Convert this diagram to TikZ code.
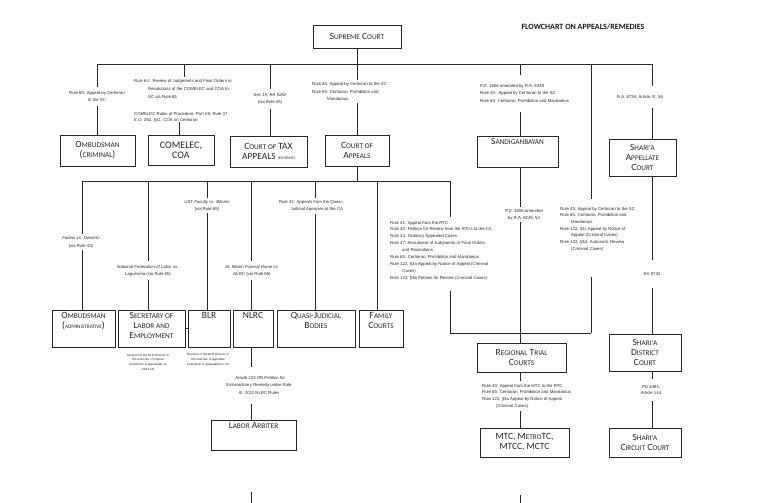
\documentclass[tikz,border=0pt]{standalone}
\usepackage{fontspec}
\setmainfont{Liberation Sans}
\newfontfamily\boxfam{Carlito}
\usetikzlibrary{shadows}
\newcommand\sck[1]{{\fontsize{7.3}{10}\selectfont #1}}
\newcommand\notesz{\fontsize{4.3}{7}\selectfont}
\tikzset{
  box/.style={draw=black!85, line width=0.7pt, fill=white,
    drop shadow={shadow xshift=0.7pt, shadow yshift=-0.7pt, fill=black!70, opacity=1},
    align=center, font=\boxfam\fontsize{9.5}{10}\selectfont, inner sep=1pt, text=black!85},
  blbl/.style={anchor=north, align=center, font=\boxfam\fontsize{9.5}{10}\selectfont, inner sep=2.5pt, text=black!85},
  note/.style={font=\notesz, align=center, inner sep=2.5pt, inner xsep=1pt, text=black!85},
  notel/.style={note, align=left},
  conn/.style={draw=black!85, line width=0.8pt}
}
\begin{document}
\begin{tikzpicture}[x=1pt,y=-1pt]
\useasboundingbox (0,0) rectangle (768,503);
% title
\node[font=\boxfam\bfseries\fontsize{8}{9}\selectfont, text=black!90] (title) at (583,27) {FLOWCHART ON APPEALS/REMEDIES};
% top row boxes
\node[box, minimum width=88pt, minimum height=23pt] (sc) at (357,36.5) {S\sck{UPREME} C\sck{OURT}};
\node[box, minimum width=75pt, minimum height=31pt] (omb1) at (97.5,150.5) {O\sck{MBUDSMAN}\\(\sck{CRIMINAL})};
\node[box, minimum width=66pt, minimum height=30pt, font=\boxfam\fontsize{10}{10}\selectfont] (comelec) at (181,150) {COMELEC,\\COA};
\node[box, minimum width=77pt, minimum height=31pt] (cta) at (268.5,151.5) {C\sck{OURT OF} TAX\\APPEALS {\fontsize{4}{5}\selectfont (EN BANC)}};
\node[box, minimum width=64pt, minimum height=31pt] (ca) at (357,150.5) {C\sck{OURT OF}\\A\sck{PPEALS}};
\node[box, minimum width=81pt, minimum height=31pt, label={[blbl]north:S\sck{ANDIGANBAYAN}}] (sandi) at (517.5,151.5) {};
\node[box, minimum width=67pt, minimum height=37pt] (sha) at (642.5,157.5) {S\sck{HARI'A}\\A\sck{PPELLATE}\\C\sck{OURT}};
% second row boxes
\node[box, minimum width=63pt, minimum height=37pt, label={[blbl]north:{O\sck{MBUDSMAN}\\({\fontsize{5.3}{10}\selectfont ADMINISTRATIVE})}}] (omb2) at (83.5,328.5) {};
\node[box, minimum width=67pt, minimum height=37pt, label={[blbl]north:{S\sck{ECRETARY OF}\\L\sck{ABOR AND}\\E\sck{MPLOYMENT}}}] (sole) at (151.5,328.5) {};
\node[box, minimum width=42pt, minimum height=37pt, label={[blbl]north:BLR}] (blr) at (209,328.5) {};
\node[box, minimum width=40pt, minimum height=37pt, label={[blbl]north:NLRC}] (nlrc) at (253,328.5) {};
\node[box, minimum width=78pt, minimum height=37pt, label={[blbl]north:{Q\sck{UASI}-J\sck{UDICIAL}\\B\sck{ODIES}}}] (qjb) at (316,328.5) {};
\node[box, minimum width=44pt, minimum height=37pt, label={[blbl]north:{F\sck{AMILY}\\C\sck{OURTS}}}] (fam) at (381,328.5) {};
% lower boxes
\node[box, minimum width=85pt, minimum height=30pt, label={[blbl]north:L\sck{ABOR} A\sck{RBITER}}] (la) at (253.5,435) {};
\node[box, minimum width=89pt, minimum height=29pt] (rtc) at (521.5,357.5) {R\sck{EGIONAL} T\sck{RIAL}\\C\sck{OURTS}};
\node[box, minimum width=89pt, minimum height=29pt] (mtc) at (524.5,442.5) {MTC, M\sck{ETRO}TC,\\MTCC, MCTC};
\node[box, minimum width=72pt, minimum height=37pt] (sdc) at (645,352.5) {S\sck{HARI'A}\\D\sck{ISTRICT}\\C\sck{OURT}};
\node[box, minimum width=72pt, minimum height=29pt] (scc) at (645,442.5) {S\sck{HARI'A}\\C\sck{IRCUIT} C\sck{OURT}};
% notes top tier
\node[note, inner ysep=4pt] (tomb1) at (97,96.5) {Rule 65: Appeal by Certiorari\\to the SC};
\node[notel, anchor=north west, font=\fontsize{4.3}{8}\selectfont] (tcom1) at (133,77) {Rule 64:\ \ Review of Judgments and Final Orders or\\\hspace*{14pt}Resolutions of the COMELEC and COA to\\\hspace*{14pt}SC via Rule 65};
\node[notel, anchor=west, font=\fontsize{4.3}{6.5}\selectfont] (tcom2) at (133,117) {COMELEC Rules of Procedure, Part VII, Rule 37\\E.O. 292, §31: COA on Certiorari};
\node[note, inner ysep=4.5pt, font=\fontsize{4.3}{6.5}\selectfont] (tcta) at (270,99) {\textit{Sec 19, RA 9282}\\(via Rule 45)};
\node[notel, anchor=west, inner ysep=2.5pt, font=\fontsize{4.3}{7.5}\selectfont] (tca) at (311,91.5) {Rule 45: Appeal by Certiorari to the SC\\Rule 65: Certiorari, Prohibition and\\\hspace*{15pt}Mandamus};
\node[notel, anchor=west, inner ysep=8.5pt, font=\fontsize{4.3}{7.5}\selectfont] (tsandi) at (479,93.5) {P.D. 1606 amended by R.A. 8249\\Rule 45:\ \ Appeal by Certiorari to the SC\\Rule 65: Certiorari, Prohibition and Mandamus};
\node[note, inner ysep=9pt] (tsh) at (640,97) {R.A. 6734, Article IX, §6};
% notes second tier
\node[note, inner ysep=2pt, font=\fontsize{4.3}{8}\selectfont] (tomb2) at (81,242) {\textit{Fabian vs. Desierto}\\(via Rule 43)};
\node[note, inner ysep=4pt] (tsole) at (148,270.5) {\textit{National Federation of Labor vs.}\\\textit{Laguesma} (via Rule 65)};
\node[note, inner ysep=2pt] (tblr) at (207,205.5) {\textit{UST Faculty vs. Bitonio}\\(via Rule 65)};
\node[note, inner ysep=4pt] (tnlrc) at (252,270.5) {\textit{St. Martin Funeral Home vs.}\\\textit{NLRC} (via Rule 65)};
\node[note, align=right, inner ysep=2pt] (tqjb) at (311,206) {Rule 43: Appeals from the Quasi-\\Judicial Agencies to the CA};
\node[notel, anchor=west, inner ysep=4pt, font=\fontsize{4.3}{6.9}\selectfont] (tca2) at (389,250.5) {Rule 41: Appeal from the RTC\\Rule 42: Petition for Review from the RTCs to the CA\\Rule 44: Ordinary Appealed Cases\\Rule 47: Annulment of Judgments or Final Orders\\\hspace*{12pt}and Resolutions\\Rule 65: Certiorari, Prohibition and Mandamus\\Rule 122, §3a Appeal by Notice of Appeal (Criminal\\\hspace*{12pt}Cases)\\Rule 122, §3b Petition for Review (Criminal Cases)};
\node[note, inner ysep=1.5pt] (tsandi2) at (524,214.5) {P.D. 1606 amended\\by R.A. 8249, §4};
\node[notel, anchor=west, inner ysep=8pt, font=\fontsize{4.3}{6.7}\selectfont] (tsc2) at (559,229) {Rule 45: Appeal by Certiorari to the SC\\Rule 65: Certiorari, Prohibition and\\\hspace*{11pt}Mandamus\\Rule 122, §3c Appeal by Notice of\\\hspace*{11pt}Appeal (Criminal Cases)\\Rule 122, §3d: Automatic Review\\\hspace*{11pt}(Criminal Cases)};
\node[note, inner ysep=12pt] (tsh2) at (652,274) {RA 8734};
% notes lower
\node[note, font=\fontsize{3.1}{4.7}\selectfont, inner sep=1pt] (n1) at (148,362) {Decision of the BLR Director in\\the exercise of original\\jurisdiction is appealable to\\SECLAB};
\node[note, font=\fontsize{3.1}{4.7}\selectfont, inner sep=1pt] (n2) at (208,359.5) {Decision of the BLR Director in\\the exercise of appellate\\jurisdiction is appealable to CA};
\node[note, inner ysep=9pt, font=\fontsize{4.3}{7.5}\selectfont] (tnl2) at (259,385.5) {, Article 223 OR Petition for\\Extraordinary Remedy under Rule\\XI, 2011 NLRC Rules};
\node[notel, anchor=west, inner ysep=3pt, font=\fontsize{4.3}{6.7}\selectfont] (trtc) at (481,396) {Rule 40: Appeal from the MTC to the RTC\\Rule 65: Certiorari, Prohibition and Mandamus\\Rule 122, §3a Appeal by Notice of Appeal\\\hspace*{14pt}(Criminal Cases)};
\node[note, inner ysep=6pt, font=\fontsize{4.3}{6.5}\selectfont] (tsdc) at (651,390) {PD 1083,\\Article 144};
% junctions
\coordinate (j1) at (97,64); \coordinate (j2) at (184,64); \coordinate (j3) at (270,64);
\coordinate (j4) at (357,64); \coordinate (j5) at (520,64); \coordinate (j6) at (591,64);
\coordinate (j7) at (652,64); \coordinate (jc) at (179,122);
\coordinate (k1) at (82,181); \coordinate (k2) at (148,181); \coordinate (k3) at (207,181);
\coordinate (k4) at (251,181); \coordinate (k5) at (315,181); \coordinate (k6) at (377,181);
\coordinate (k7) at (450,181);
\coordinate (m1) at (450,333); \coordinate (m2) at (591,333);
\coordinate (tca2b) at ([yshift=-7pt]tca2.south);
\coordinate (tsc2b) at ([yshift=-18pt]tsc2.south);
\coordinate (e1a) at (251,492); \coordinate (e1b) at (251,504);
\coordinate (e2a) at (520,495); \coordinate (e2b) at (520,504);
% connectors top tier
\draw[conn] (j1) -- (j7);
\draw[conn] (sc.south) -- (j4);
\draw[conn] (j1) -- (j1 |- tomb1.north);
\draw[conn] (tomb1.south -| j1) -- (j1 |- omb1.north);
\draw[conn] (j2) -- (j2 |- tcom1.north);
\draw[conn] (jc) -- (jc |- comelec.north);
\draw[conn] (j3) -- (j3 |- tcta.north);
\draw[conn] (tcta.south -| j3) -- (j3 |- cta.north);
\draw[conn] (j4) -- (j4 |- tca.north);
\draw[conn] (tca.south -| j4) -- (j4 |- ca.north);
\draw[conn] (j5) -- (j5 |- tsandi.north);
\draw[conn] (tsandi.south -| j5) -- (j5 |- sandi.north);
\draw[conn] (j6) -- (j6 |- tsc2.north);
\draw[conn] (tsc2b -| j6) -- (m2);
\draw[conn] (j7) -- (j7 |- tsh.north);
\draw[conn] (tsh.south -| j7) -- (j7 |- sha.north);
\draw[conn] (sha.south -| j7) -- (j7 |- tsh2.north);
\draw[conn] (tsh2.south -| j7) -- (j7 |- sdc.north);
\draw[conn] (sdc.south -| j7) -- (j7 |- tsdc.north);
\draw[conn] (tsdc.south -| j7) -- (j7 |- scc.north);
% second tier
\draw[conn] (k1) -- (k7);
\draw[conn] (ca.south) -- (ca.south |- k1);
\draw[conn] (k1) -- (k1 |- tomb2.north);
\draw[conn] (tomb2.south -| k1) -- (k1 |- omb2.north);
\draw[conn] (k2) -- (k2 |- tsole.north);
\draw[conn] (tsole.south -| k2) -- (k2 |- sole.north);
\draw[conn] (k3) -- (k3 |- tblr.north);
\draw[conn] (tblr.south -| k3) -- (k3 |- blr.north);
\draw[conn] (k4) -- (k4 |- tnlrc.north);
\draw[conn] (tnlrc.south -| k4) -- (k4 |- nlrc.north);
\draw[conn] (k5) -- (k5 |- tqjb.north);
\draw[conn] (tqjb.south -| k5) -- (k5 |- qjb.north);
\draw[conn] (k6) -- (k6 |- fam.north);
\draw[conn] (k7) -- (k7 |- tca2.north);
\draw[conn] (tca2b -| k7) -- (m1);
\draw[conn] (m1) -- (m2);
\draw[conn] (sole.east) -- (blr.west);
% sandiganbayan / rtc chain
\draw[conn] (sandi.south -| j5) -- (j5 |- tsandi2.north);
\draw[conn] (tsandi2.south -| j5) -- (j5 |- rtc.north);
\draw[conn] (rtc.south -| j5) -- (j5 |- trtc.north);
\draw[conn] (trtc.south -| j5) -- (j5 |- mtc.north);
\draw[conn] (e2a) -- (e2b);
% nlrc chain
\draw[conn] (nlrc.south -| k4) -- (k4 |- tnl2.north);
\draw[conn] (tnl2.south -| k4) -- (k4 |- la.north);
\draw[conn] (e1a) -- (e1b);
\end{tikzpicture}
\end{document}
